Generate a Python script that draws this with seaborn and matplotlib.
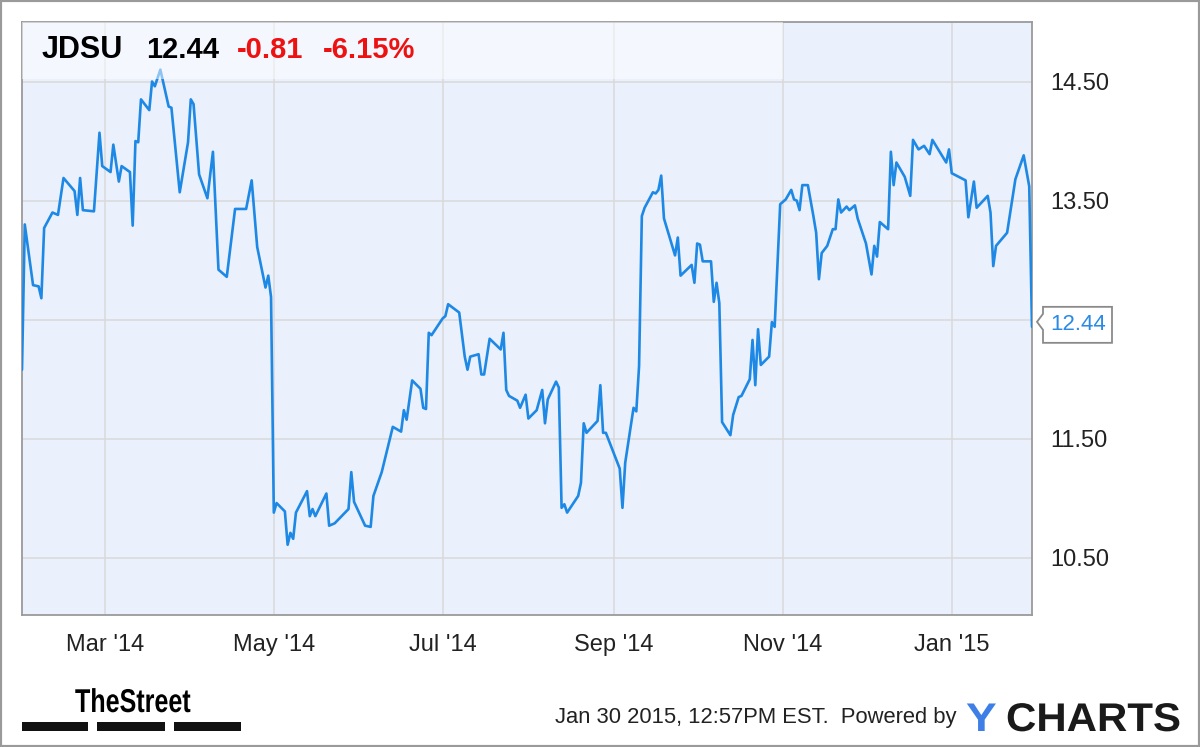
import pandas as pd
import matplotlib
matplotlib.use('Agg')
import matplotlib.pyplot as plt
import matplotlib.dates as mdates
import matplotlib.patches as mpatches
import matplotlib.transforms as mtransforms
from matplotlib.textpath import TextPath
from matplotlib.font_manager import FontProperties
import seaborn as sns

# ---------------------------------------------------------
# data
# ---------------------------------------------------------
dates = [
    '2014-01-30', '2014-01-31', '2014-02-03', '2014-02-05', '2014-02-06', '2014-02-07',
    '2014-02-10', '2014-02-12', '2014-02-14', '2014-02-18', '2014-02-19', '2014-02-20',
    '2014-02-21', '2014-02-25', '2014-02-27', '2014-02-28', '2014-03-03', '2014-03-04',
    '2014-03-06', '2014-03-07', '2014-03-10', '2014-03-11', '2014-03-12', '2014-03-13',
    '2014-03-14', '2014-03-17', '2014-03-18', '2014-03-19', '2014-03-21', '2014-03-24',
    '2014-03-25', '2014-03-28', '2014-03-31', '2014-04-01', '2014-04-02', '2014-04-04',
    '2014-04-07', '2014-04-09', '2014-04-11', '2014-04-14', '2014-04-17', '2014-04-21',
    '2014-04-23', '2014-04-25', '2014-04-28', '2014-04-29', '2014-04-30', '2014-05-01',
    '2014-05-02', '2014-05-05', '2014-05-06', '2014-05-07', '2014-05-08', '2014-05-09',
    '2014-05-13', '2014-05-14', '2014-05-15', '2014-05-16', '2014-05-20', '2014-05-21',
    '2014-05-23', '2014-05-28', '2014-05-29', '2014-05-30', '2014-06-03', '2014-06-05',
    '2014-06-06', '2014-06-09', '2014-06-13', '2014-06-16', '2014-06-17', '2014-06-18',
    '2014-06-20', '2014-06-23', '2014-06-24', '2014-06-25', '2014-06-26', '2014-06-27',
    '2014-07-01', '2014-07-02', '2014-07-03', '2014-07-07', '2014-07-09', '2014-07-10',
    '2014-07-11', '2014-07-14', '2014-07-15', '2014-07-16', '2014-07-18', '2014-07-22',
    '2014-07-23', '2014-07-24', '2014-07-25', '2014-07-28', '2014-07-29', '2014-07-31',
    '2014-08-01', '2014-08-04', '2014-08-06', '2014-08-07', '2014-08-08', '2014-08-11',
    '2014-08-12', '2014-08-13', '2014-08-14', '2014-08-15', '2014-08-19', '2014-08-20',
    '2014-08-21', '2014-08-22', '2014-08-26', '2014-08-27', '2014-08-28', '2014-08-29',
    '2014-09-03', '2014-09-04', '2014-09-05', '2014-09-08', '2014-09-09', '2014-09-10',
    '2014-09-11', '2014-09-12', '2014-09-15', '2014-09-16', '2014-09-17', '2014-09-18',
    '2014-09-19', '2014-09-23', '2014-09-24', '2014-09-25', '2014-09-29', '2014-09-30',
    '2014-10-01', '2014-10-02', '2014-10-03', '2014-10-06', '2014-10-07', '2014-10-08',
    '2014-10-09', '2014-10-10', '2014-10-13', '2014-10-14', '2014-10-16', '2014-10-17',
    '2014-10-20', '2014-10-21', '2014-10-22', '2014-10-23', '2014-10-24', '2014-10-27',
    '2014-10-28', '2014-10-29', '2014-10-31', '2014-11-02', '2014-11-04', '2014-11-05',
    '2014-11-06', '2014-11-07', '2014-11-08', '2014-11-10', '2014-11-12', '2014-11-13',
    '2014-11-14', '2014-11-15', '2014-11-17', '2014-11-19', '2014-11-20', '2014-11-21',
    '2014-11-22', '2014-11-24', '2014-11-25', '2014-11-27', '2014-11-28', '2014-12-01',
    '2014-12-03', '2014-12-04', '2014-12-05', '2014-12-06', '2014-12-09', '2014-12-10',
    '2014-12-11', '2014-12-12', '2014-12-15', '2014-12-17', '2014-12-18', '2014-12-20',
    '2014-12-22', '2014-12-24', '2014-12-25', '2014-12-30', '2014-12-31', '2015-01-01',
    '2015-01-06', '2015-01-07', '2015-01-09', '2015-01-10', '2015-01-14', '2015-01-15',
    '2015-01-16', '2015-01-17', '2015-01-21', '2015-01-24', '2015-01-27', '2015-01-29',
    '2015-01-30',
]
prices = [
    12.08, 13.30, 12.79, 12.78, 12.68, 13.27,
    13.40, 13.38, 13.69, 13.58, 13.38, 13.69,
    13.42, 13.41, 14.07, 13.79, 13.74, 13.97,
    13.66, 13.79, 13.74, 13.29, 14.00, 13.99,
    14.35, 14.26, 14.50, 14.46, 14.60, 14.29,
    14.28, 13.57, 13.99, 14.35, 14.31, 13.72,
    13.52, 13.91, 12.92, 12.86, 13.43, 13.43,
    13.67, 13.11, 12.77, 12.87, 12.69, 10.88,
    10.96, 10.89, 10.61, 10.71, 10.66, 10.88,
    11.06, 10.85, 10.91, 10.85, 11.04, 10.77,
    10.79, 10.91, 11.22, 10.97, 10.77, 10.76,
    11.02, 11.22, 11.60, 11.56, 11.74, 11.66,
    11.99, 11.92, 11.76, 11.75, 12.39, 12.37,
    12.51, 12.53, 12.63, 12.56, 12.19, 12.08,
    12.19, 12.21, 12.04, 12.04, 12.34, 12.25,
    12.39, 11.91, 11.86, 11.82, 11.76, 11.87,
    11.67, 11.74, 11.91, 11.63, 11.83, 11.98,
    11.93, 10.92, 10.95, 10.88, 11.02, 11.13,
    11.63, 11.55, 11.65, 11.95, 11.55, 11.55,
    11.25, 10.92, 11.30, 11.76, 11.73, 12.11,
    13.37, 13.44, 13.57, 13.56, 13.59, 13.71,
    13.35, 13.04, 13.19, 12.87, 12.96, 12.81,
    13.14, 13.13, 12.99, 12.99, 12.65, 12.81,
    12.64, 11.64, 11.53, 11.70, 11.85, 11.86,
    12.00, 12.33, 11.95, 12.42, 12.12, 12.19,
    12.48, 12.44, 13.47, 13.51, 13.59, 13.51,
    13.50, 13.42, 13.63, 13.63, 13.37, 13.23,
    12.84, 13.06, 13.12, 13.26, 13.26, 13.51,
    13.40, 13.45, 13.42, 13.46, 13.35, 13.14,
    12.88, 13.12, 13.03, 13.32, 13.26, 13.91,
    13.63, 13.82, 13.70, 13.54, 14.01, 13.93,
    13.96, 13.89, 14.01, 13.82, 13.93, 13.73,
    13.67, 13.36, 13.66, 13.44, 13.54, 13.40,
    12.95, 13.12, 13.23, 13.68, 13.88, 13.62,
    12.44,
]

ticker = 'JDSU'
last_price = '12.44'
change = '-0.81'
change_pct = '-6.15%'
y_ticks = [10.5, 11.5, 12.5, 13.5, 14.5]
y_tick_labels = ['10.50', '11.50', '', '13.50', '14.50']
x_tick_dates = ['2014-03-01', '2014-05-01', '2014-07-01', '2014-09-01', '2014-11-01', '2015-01-01']
x_tick_labels = ["Mar '14", "May '14", "Jul '14", "Sep '14", "Nov '14", "Jan '15"]
stamp = 'Jan 30 2015, 12:57PM EST.  Powered by'

# ---------------------------------------------------------
# style
# ---------------------------------------------------------
sns.set_style('white')
plt.rcParams['font.family'] = ['Liberation Sans', 'DejaVu Sans']

LINE = '#1e88e5'
TXT = '#222222'
W, H = 1200, 747

df = pd.DataFrame({'date': pd.to_datetime(dates), 'price': prices})

fig = plt.figure(figsize=(W / 100, H / 100), dpi=100)
fig.patch.set_facecolor('white')

# plot area in pixel terms: x 22..1032, y 22..615 (from top)
ax = fig.add_axes([22 / W, 1 - 615 / H, 1010 / W, 593 / H])
ax.set_facecolor('#eaf0fc')

sns.lineplot(data=df, x='date', y='price', ax=ax, color=LINE, linewidth=1.9, zorder=3)

ax.set_xlim(df['date'].iloc[0], df['date'].iloc[-1])
ax.set_ylim(10.02, 15.0)
ax.set_xlabel('')
ax.set_ylabel('')

ax.set_xticks(pd.to_datetime(x_tick_dates))
ax.set_xticklabels(x_tick_labels)
ax.set_yticks(y_ticks)
ax.set_yticklabels(y_tick_labels)
ax.yaxis.tick_right()
ax.tick_params(axis='x', length=0, pad=14, labelsize=17, labelcolor=TXT)
ax.tick_params(axis='y', length=0, pad=13, labelsize=17, labelcolor=TXT)

ax.grid(True, color='#d9d9d9', linewidth=1.1)
ax.set_axisbelow(True)
for sp in ax.spines.values():
    sp.set_visible(True)
    sp.set_color('#9a9a9a')
    sp.set_linewidth(1.3)

# lighter header band (sits over grid and line)
ax.add_patch(mpatches.Rectangle((0, 0.904), 0.7535, 0.096, transform=ax.transAxes,
                                fc='white', ec='none', alpha=0.5, zorder=4))

# header: ticker, price, change
hy = 0.953
hx = [(42, ticker, 'black', 22), (146, last_price, 'black', 21),
      (237, change, '#ee1111', 21), (323, change_pct, '#ee1111', 21)]
for px, s, c, fs in hx:
    ax.text((px - 22) / 1010, hy, s, transform=ax.transAxes, ha='left', va='center',
            fontsize=fs, fontweight='bold', color=c, zorder=5)

# last value callout
fig.canvas.draw()
anchor = ax.transData.transform((mdates.date2num(df['date'].iloc[-1]), prices[-1]))
ax_, ay_ = anchor
verts = [(5, 5), (11, 13), (11, 20), (80, 20), (80, -16), (11, -16), (11, -3)]
poly = mpatches.Polygon([(ax_ + vx, ay_ + vy) for vx, vy in verts], closed=True,
                        fc='white', ec='#8a8a8a', lw=1.3,
                        transform=mtransforms.IdentityTransform(), clip_on=False, zorder=6)
fig.add_artist(poly)
fig.text((ax_ + 46) / W, (ay_ + 2) / H, last_price, ha='center', va='center',
         fontsize=16, color='#2a8ae6', zorder=7)

# footer: TheStreet logo (condensed bold text + three bars)
fp = FontProperties(family='Liberation Sans', weight='bold')
tp = TextPath((0, 0), 'TheStreet', size=33, prop=fp)
logo = mpatches.PathPatch(tp, fc='black', ec='none',
                          transform=mtransforms.Affine2D().scale(0.76, 1.0).translate(75, H - 712))
fig.add_artist(logo)
for x0, x1 in [(22, 88), (97, 165), (174, 241)]:
    fig.add_artist(mpatches.Rectangle((x0 / W, (H - 731) / H), (x1 - x0) / W, 9 / H,
                                      transform=fig.transFigure, fc='#111111', ec='none'))

# footer: timestamp and YCHARTS (slightly stretched wordmark)
fig.text(555 / W, (H - 718) / H, stamp, ha='left', va='center', fontsize=15.8, color=TXT)
tp_y = TextPath((0, 0), 'Y', size=40, prop=fp)
fig.add_artist(mpatches.PathPatch(tp_y, fc='#3d7fe6', ec='none',
               transform=mtransforms.Affine2D().scale(1.15, 1.0).translate(966, H - 731)))
tp_c = TextPath((0, 0), 'CHARTS', size=40, prop=fp)
fig.add_artist(mpatches.PathPatch(tp_c, fc='#1a1a1a', ec='none',
               transform=mtransforms.Affine2D().scale(1.05, 1.0).translate(1006, H - 731)))

# outer frame
fig.add_artist(mpatches.Rectangle((0, 0), 1, 1, transform=fig.transFigure,
                                  fill=False, ec='#9a9a9a', lw=3))

fig.savefig('out.png', dpi=100)
